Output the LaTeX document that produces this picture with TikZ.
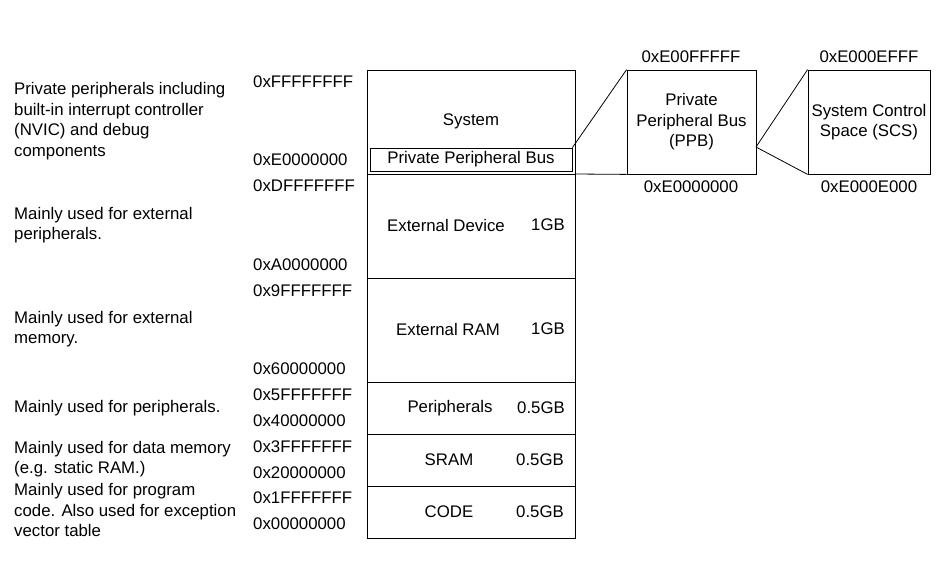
\documentclass[tikz,border=0pt]{standalone}
\usepackage{fontspec}
\setmainfont{Liberation Sans}
\begin{document}
\begin{tikzpicture}[x=1pt,y=-1pt,
  box/.style={draw,line width=0.8pt},
  t/.style={font=\fontsize{16.8}{20.5}\selectfont,inner sep=0pt},
  l/.style={t,anchor=west,align=left},
  w/.style={line width=0.8pt}]
\useasboundingbox (0,0) rectangle (946,562);
% main column
\draw[box] (367,70) rectangle (575,174);
\draw[box] (367,174) rectangle (575,278);
\draw[box] (367,278) rectangle (575,382);
\draw[box] (367,382) rectangle (575,434);
\draw[box] (367,434) rectangle (575,486);
\draw[box] (367,486) rectangle (575,538);
\node[box,minimum width=202,minimum height=23,inner sep=0pt,font=\fontsize{16.8}{20.5}\selectfont] (ppbin) at (471,159.5) {Private Peripheral Bus};
\node[t] (sys) at (471,121) {System};
\node[t] (ed) at (446,225) {External Device}; \node[t] at (548,225) {1GB};
\node[t] (er) at (448,329) {External RAM}; \node[t] at (548,329) {1GB};
\node[t] (pe) at (450,408) {Peripherals}; \node[t] at (541,408) {0.5GB};
\node[t] (sr) at (449,460) {SRAM}; \node[t] at (540,460) {0.5GB};
\node[t] (cd) at (449,512) {CODE}; \node[t] at (540,512) {0.5GB};
% addresses
\foreach \n/\y/\s in {a1/82/0xFFFFFFFF,a2/160/0xE0000000,a3/186/0xDFFFFFFF,a4/265/0xA0000000,a5/291/0x9FFFFFFF,a6/369/0x60000000,a7/395/0x5FFFFFFF,a8/421/0x40000000,a9/447/0x3FFFFFFF,a10/473/0x20000000,a11/498/0x1FFFFFFF,a12/524/0x00000000}
  \node[l] (\n) at (253,\y) {\s};
% descriptions
\node[l] (d1) at (14,121) {Private peripherals including\\built-in interrupt controller\\(NVIC) and debug\\components};
\node[l] (d2) at (14,225) {Mainly used for external\\peripherals.};
\node[l] (d3) at (14,329) {Mainly used for external\\memory.};
\node[l] (d4) at (14,408) {Mainly used for peripherals.};
\node[l] (d5) at (14,459) {Mainly used for data memory\\(e.g. static RAM.)};
\node[l] (d6) at (14,510) {Mainly used for program\\code. Also used for exception\\vector table};
% PPB and SCS
\node[box,minimum width=129,minimum height=104,inner sep=0pt,align=center,font=\fontsize{16.8}{20.5}\selectfont] (ppb) at (691.5,122) {Private\\Peripheral Bus\\(PPB)};
\node[box,minimum width=122,minimum height=104,inner sep=0pt,align=center,font=\fontsize{16.8}{20.5}\selectfont] (scs) at (869,122) {System Control\\Space (SCS)};
\node[t] (p1) at (691,57) {0xE00FFFFF};
\node[t] (p2) at (691,187) {0xE0000000};
\node[t] (s1) at (869,57) {0xE000EFFF};
\node[t] (s2) at (869,187) {0xE000E000};
\draw[w] (ppbin.north east) -- (ppb.north west);
\draw[w] (575,174) -- (ppb.south west);
\draw[w] (756,147) -- (scs.north west);
\draw[w] (756,147) -- (scs.south west);
\end{tikzpicture}
\end{document}
